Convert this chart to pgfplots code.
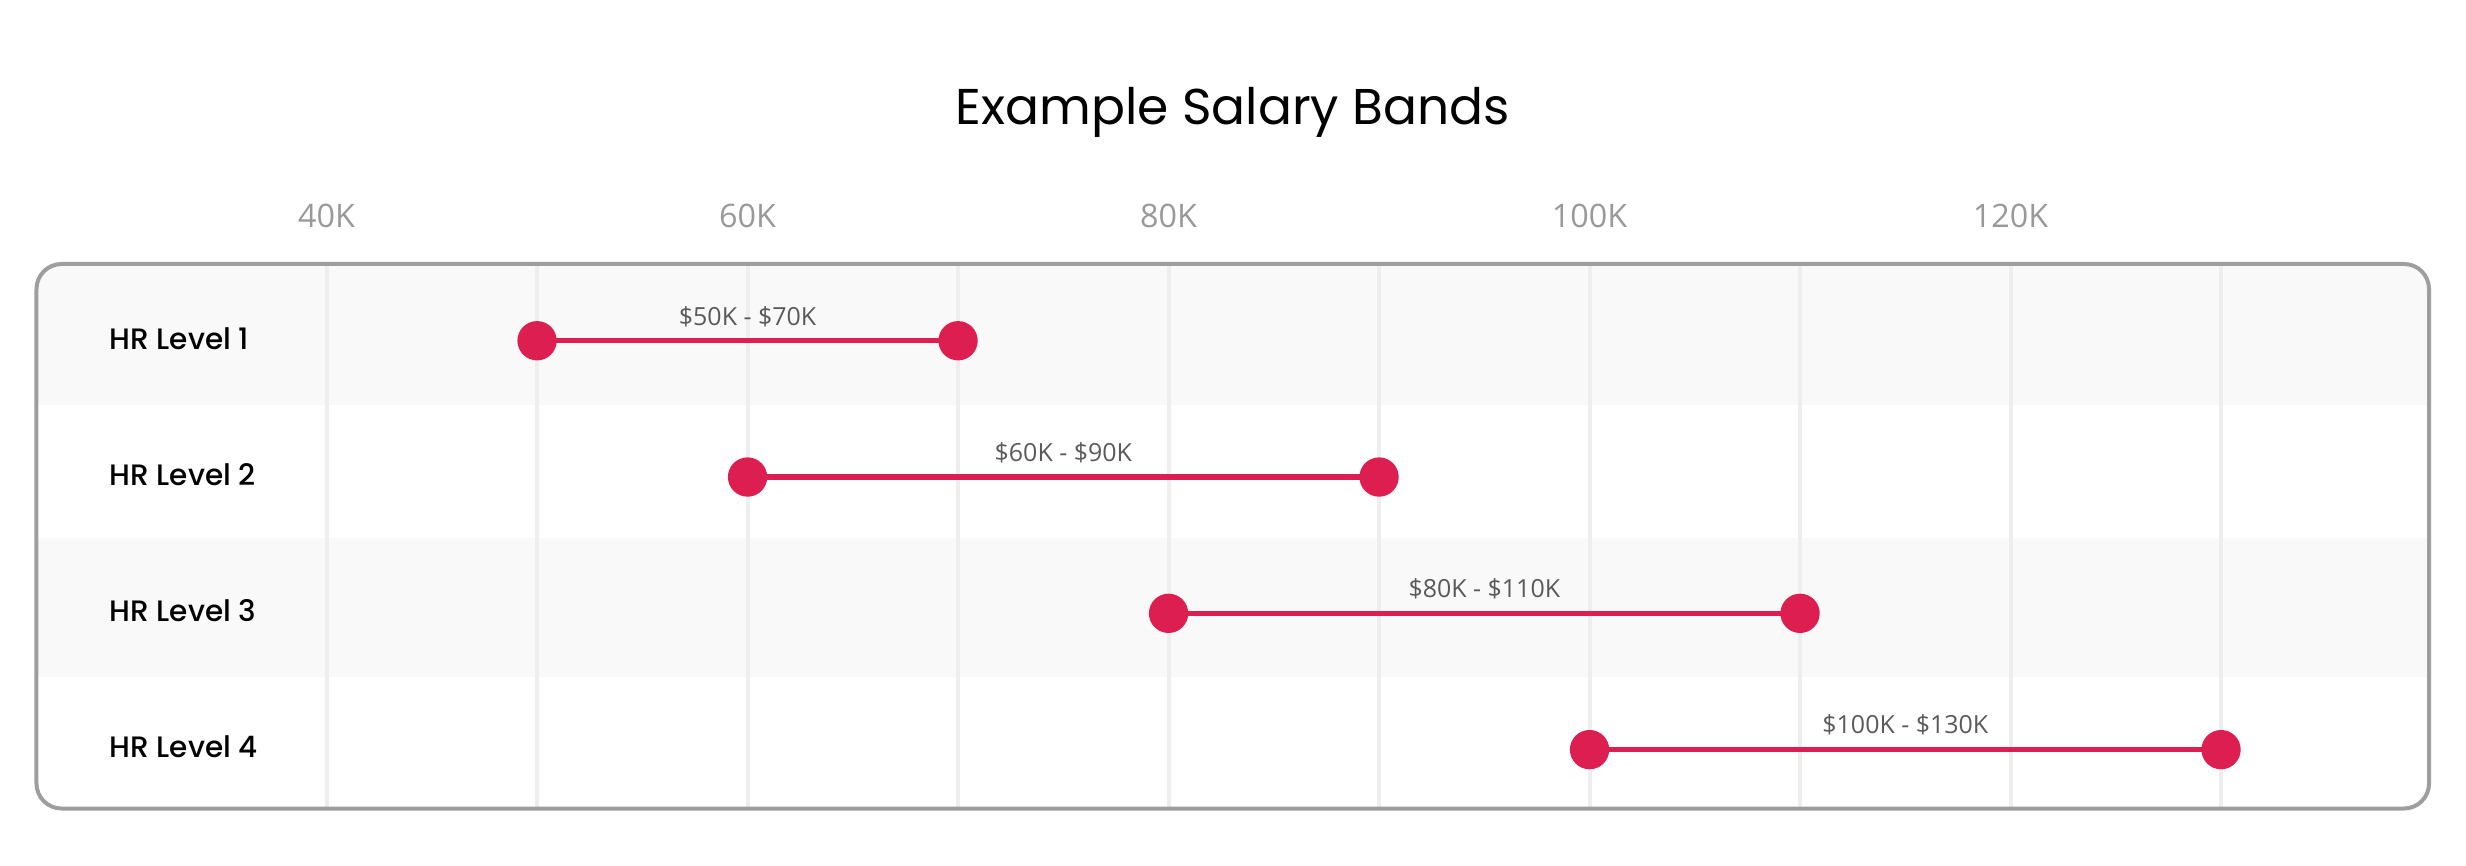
\documentclass[border=0pt]{standalone}
\usepackage{fontspec}
\setmainfont{Poppins}
\newfontfamily\pmed{Poppins Medium}
\newfontfamily\tickfont{Open Sans}
\usepackage{pgfplots}
\pgfplotsset{compat=1.18}
\usetikzlibrary{calc}
\definecolor{dotred}{HTML}{DC1F50}
\definecolor{bandgray}{HTML}{F9F9F9}
\definecolor{gridgray}{HTML}{EEEEEE}
\definecolor{bordergray}{HTML}{9E9E9E}
\definecolor{tickgray}{HTML}{999999}
\definecolor{labelgray}{HTML}{5A5A5A}
\pgfplotsset{band/.style={dotred, line width=0.53mm, mark=*, mark size=1.7mm,
  mark options={solid, fill=dotred, draw=none}}}
\tikzset{lbl/.style={pos=0.5, anchor=base, inner sep=0pt, yshift=1.57mm,
  font=\tickfont\fontsize{7.1}{8}\selectfont, text=labelgray}}
\begin{document}
\begin{tikzpicture}
\begin{axis}[
  name=ax, set layers,
  scale only axis, width=239.25mm, height=54.45mm,
  xmin=26.22, xmax=139.88, ymin=0.437, ymax=4.432, y dir=reverse,
  axis line style={draw=none}, major tick length=0pt,
  xtick={40,50,...,130},
  xticklabels={40K,,60K,,80K,,100K,,120K,},
  xticklabel pos=right,
  xticklabel style={anchor=base, inner sep=0pt, yshift=3.63mm, font=\tickfont\fontsize{9.2}{10}\selectfont, text=tickgray},
  xmajorgrids, major grid style={draw=gridgray, line width=0.4mm},
  ytick={1,2,3,4},
  yticklabels={HR Level 1,HR Level 2,HR Level 3,HR Level 4},
  yticklabel style={anchor=base west, inner sep=0pt, xshift=7.25mm, yshift=-0.83mm, font=\pmed\fontsize{8.4}{10}\selectfont},
  clip=false,
  /pgf/number format/assume math mode=true,
]
\begin{pgfonlayer}{axis background}
\begin{scope}
\clip[rounded corners=2.5mm] (rel axis cs:0,0) rectangle (rel axis cs:1,1);
\fill[bandgray] (axis cs:20,0.3) rectangle (axis cs:145,1.47);
\fill[bandgray] (axis cs:20,2.45) rectangle (axis cs:145,3.47);
\end{scope}
\end{pgfonlayer}
\addplot[band] coordinates {(50,1) (70,1)} node[lbl] {\$50K - \$70K};
\addplot[band] coordinates {(60,2) (90,2)} node[lbl] {\$60K - \$90K};
\addplot[band] coordinates {(80,3) (110,3)} node[lbl] {\$80K - \$110K};
\addplot[band] coordinates {(100,4) (130,4)} node[lbl] {\$100K - \$130K};
\end{axis}
\draw[bordergray, line width=0.4mm, rounded corners=2.5mm] (ax.south west) rectangle (ax.north east);
\node[anchor=base, inner sep=0pt, font=\fontsize{14.3}{17}\selectfont] at ($(ax.north)+(0,13.9mm)$) {Example Salary Bands};
\pgfresetboundingbox
\path[use as bounding box] ($(ax.south west)+(-3.65mm,-5.65mm)$) rectangle ++(246.6mm,86.5mm);
\end{tikzpicture}
\end{document}
